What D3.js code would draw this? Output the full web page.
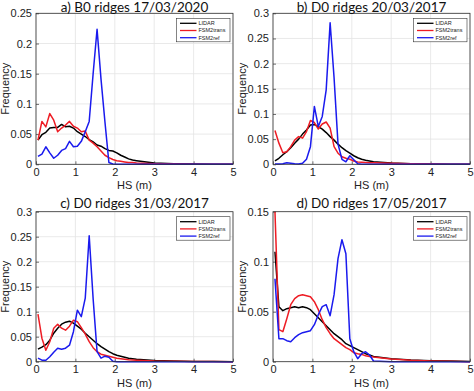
<!DOCTYPE html>
<html><head><meta charset="utf-8">
<script src="https://cdn.jsdelivr.net/npm/d3@7"></script>
<style>
html,body{margin:0;padding:0;background:#fff;}
svg{display:block;}
</style></head>
<body>
<svg id="chart" width="474" height="391"></svg>
<script>
// ---- data ----
const hsBins = [0.05,0.15,0.25,0.35,0.45,0.55,0.65,0.75,0.85,0.95,1.05,1.15,1.25,1.35,1.45,1.55,1.65,1.75,1.85,1.95,2.05,2.15,2.25,2.35,2.45,2.55,3.0,3.5,4.0,4.5,5.0];
const seriesNames = ["LIDAR","FSM2trans","FSM2ref"];
const titles = ["a) B0 ridges 17/03/2020","b) D0 ridges 20/03/2017","c) D0 ridges 31/03/2017","d) D0 ridges 17/05/2017"];
const yMaxes = [0.25,0.3,0.3,0.15];
const xTicks = [0,1,2,3,4,5];

const lidarA = [0.040,0.049,0.053,0.060,0.061,0.061,0.066,0.062,0.063,0.060,0.054,0.050,0.046,0.041,0.037,0.032,0.030,0.026,0.023,0.022,0.019,0.015,0.012,0.009,0.007,0.006,0.002,0.001,0.0005,0.0002,0];
const transA = [0.040,0.071,0.062,0.084,0.073,0.054,0.060,0.065,0.071,0.063,0.060,0.054,0.055,0.040,0.035,0.029,0.022,0.015,0.011,0.008,0.006,0.005,0.004,0.003,0.003,0.002,0.001,0.0003,0,0,0];
const refA   = [0.013,0.017,0.029,0.019,0.010,0.015,0.023,0.026,0.038,0.029,0.030,0.038,0.054,0.071,0.150,0.2235,0.141,0.070,0.003,0.0005,0,0,0,0,0,0,0,0,0,0,0];

const lidarB = [0.007,0.012,0.019,0.025,0.033,0.042,0.050,0.060,0.068,0.078,0.079,0.075,0.070,0.063,0.055,0.048,0.040,0.033,0.027,0.022,0.017,0.013,0.010,0.008,0.0066,0.005,0.0026,0.0013,0.0007,0.0003,0];
const transB = [0.067,0.042,0.023,0.025,0.035,0.048,0.055,0.052,0.065,0.087,0.083,0.070,0.080,0.084,0.072,0.035,0.022,0.015,0.012,0.010,0.0066,0.0046,0.004,0.0035,0.003,0.003,0.002,0.001,0.0005,0.0002,0];
const refB   = [0.0007,0.0007,0.0013,0.003,0.002,0.001,0.0007,0.002,0.010,0.035,0.115,0.075,0.095,0.148,0.281,0.172,0.040,0.010,0.005,0.017,0.009,0.001,0,0,0,0,0,0,0,0,0];

const lidarC = [0.025,0.029,0.034,0.043,0.057,0.067,0.075,0.079,0.081,0.077,0.071,0.065,0.057,0.050,0.043,0.036,0.030,0.025,0.020,0.016,0.013,0.011,0.009,0.007,0.006,0.005,0.0025,0.0012,0.0006,0.0003,0];
const transC = [0.095,0.047,0.023,0.040,0.067,0.075,0.067,0.063,0.071,0.083,0.080,0.068,0.055,0.040,0.028,0.020,0.015,0.013,0.011,0.009,0.007,0.006,0.005,0.004,0.0035,0.003,0.0015,0.0008,0.0004,0.0002,0];
const refC   = [0.007,0.003,0.003,0.010,0.019,0.027,0.025,0.027,0.033,0.060,0.103,0.090,0.127,0.252,0.126,0.020,0.007,0.011,0.009,0.001,0,0,0,0,0,0,0,0,0,0,0];

const lidarD = [0.110,0.055,0.051,0.053,0.054,0.055,0.054,0.055,0.054,0.052,0.048,0.044,0.040,0.036,0.032,0.028,0.025,0.022,0.018,0.016,0.014,0.012,0.010,0.008,0.0067,0.0053,0.003,0.0017,0.001,0.0007,0.0003];
const transD = [0.150,0.032,0.030,0.043,0.057,0.063,0.066,0.067,0.066,0.065,0.060,0.052,0.042,0.034,0.028,0.023,0.020,0.017,0.014,0.012,0.009,0.008,0.0073,0.006,0.0053,0.0047,0.0027,0.0015,0.0008,0.0004,0];
const refD   = [0.083,0.023,0.023,0.021,0.020,0.024,0.027,0.029,0.030,0.031,0.037,0.047,0.055,0.057,0.046,0.067,0.103,0.122,0.108,0.023,0.010,0.003,0.008,0.010,0.0067,0.0007,0,0,0,0,0];

const panelSeries = [[lidarA,transA,refA],[lidarB,transB,refB],[lidarC,transC,refC],[lidarD,transD,refD]];

// ---- layout / style ----
const colors = ["#000000","#ee1c24","#1a1aee"];
const boxes = [
  {x:36, y:13.3, w:197, h:151},
  {x:273, y:13.3, w:197, h:151},
  {x:36, y:211.7, w:197, h:150},
  {x:273, y:211.7, w:197, h:150}
];
const tickFont = "'Liberation Sans', Arial, sans-serif";
const titleFont = "Lato, 'Open Sans', sans-serif";

const svg = d3.select("#chart");
const fmt = v => String(+v.toFixed(2));

panelSeries.forEach((series, i) => {
  const b = boxes[i];
  const g = svg.append("g").attr("transform", `translate(${b.x},${b.y})`);
  const x = d3.scaleLinear().domain([0,5]).range([0,b.w]);
  const y = d3.scaleLinear().domain([0,yMaxes[i]]).range([b.h,0]);
  const yTicks = d3.range(0, yMaxes[i] + 1e-9, 0.05);

  // grid
  g.append("g").selectAll("line").data(xTicks).join("line")
    .attr("x1", d => x(d)).attr("x2", d => x(d)).attr("y1", 0).attr("y2", b.h)
    .attr("stroke", "#e3e3e3").attr("stroke-width", 0.8);
  g.append("g").selectAll("line").data(yTicks).join("line")
    .attr("y1", d => y(d)).attr("y2", d => y(d)).attr("x1", 0).attr("x2", b.w)
    .attr("stroke", "#e3e3e3").attr("stroke-width", 0.8);

  // axes
  const xa = g.append("g").attr("transform", `translate(0,${b.h})`)
    .call(d3.axisBottom(x).tickValues(xTicks).tickFormat(d3.format("d")).tickSize(-3).tickPadding(4));
  const ya = g.append("g")
    .call(d3.axisLeft(y).tickValues(yTicks).tickFormat(fmt).tickSize(-3).tickPadding(4));
  [xa, ya].forEach(a => {
    a.select(".domain").remove();
    a.selectAll("line").attr("stroke", "#333").attr("stroke-width", 0.7);
    a.selectAll("text").attr("font-family", tickFont).attr("font-size", 11).attr("fill", "#222");
  });

  // lines
  series.forEach((vals, s) => {
    const pts = hsBins.map((h, k) => [h, vals[k]]);
    g.append("path").datum(pts)
      .attr("fill", "none").attr("stroke", colors[s]).attr("stroke-width", 1.5)
      .attr("stroke-linejoin", "round")
      .attr("d", d3.line().x(d => x(d[0])).y(d => y(d[1])));
  });

  // frame
  g.append("rect").attr("x",0).attr("y",0).attr("width",b.w).attr("height",b.h)
    .attr("fill","none").attr("stroke","#333").attr("stroke-width",0.8);

  // legend
  const lg = g.append("g").attr("transform", `translate(${b.w-56.5},5)`);
  lg.append("rect").attr("width",53.5).attr("height",23.5).attr("fill","#fff")
    .attr("stroke","#333").attr("stroke-width",0.6);
  seriesNames.forEach((n, s) => {
    const yy = 5 + s*7.2;
    lg.append("line").attr("x1",3.5).attr("x2",20).attr("y1",yy).attr("y2",yy)
      .attr("stroke",colors[s]).attr("stroke-width",1.3);
    lg.append("text").attr("x",22).attr("y",yy+2).text(n)
      .attr("font-family",tickFont).attr("font-size",5.5).attr("fill","#222");
  });

  // title
  svg.append("text").attr("x", b.x + b.w/2).attr("y", i < 2 ? 12 : b.y - 3.5)
    .attr("text-anchor","middle").attr("font-family", titleFont).attr("font-size", 13.5)
    .attr("fill","#111").text(titles[i]);
  // axis labels
  svg.append("text").attr("x", b.x + b.w/2).attr("y", b.y + b.h + 25)
    .attr("text-anchor","middle").attr("font-family", tickFont).attr("font-size", 11)
    .attr("fill","#222").text("HS (m)");
  svg.append("text").attr("transform", `translate(${b.x-27},${b.y + b.h/2}) rotate(-90)`)
    .attr("text-anchor","middle").attr("font-family", tickFont).attr("font-size", 11)
    .attr("fill","#222").text("Frequency");
});
</script>
</body></html>
